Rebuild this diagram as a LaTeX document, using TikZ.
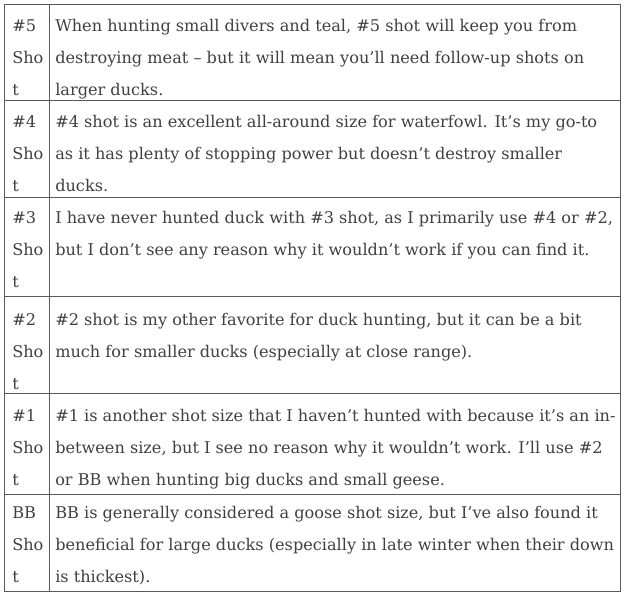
\documentclass[tikz,border=0pt]{standalone}
\usepackage{fontspec}
\setmainfont{DejaVu Serif}
\begin{document}
\begin{tikzpicture}[x=0.75pt,y=-0.75pt,
  txt/.style={anchor=base west,inner sep=0pt,text=black!75,font=\fontsize{12.1}{14}\selectfont},
  rule/.style={draw=black!65,line width=0.6pt}]
\useasboundingbox (0,0) rectangle (625,594);
\draw[rule] (4,4) rectangle (620,591);
\draw[rule] (49,4) -- (49,591);
\foreach \y in {100,197,296,393,494} \draw[rule] (4,\y) -- (620,\y);
\newcommand\row[5]{%
  \node[txt] at (12,#1+7) {#2};
  \node[txt] at (12,#1+39) {Sho};
  \node[txt] at (12,#1+71) {t};
  \node[txt] at (55,#1+7) {#3};
  \node[txt] at (55,#1+39) {#4};
  \node[txt] at (55,#1+71) {#5};}
\row{24}{\#5}{When hunting small divers and teal, \#5 shot will keep you from}{destroying meat – but it will mean you’ll need follow-up shots on}{larger ducks.}
\row{120}{\#4}{\#4 shot is an excellent all-around size for waterfowl. It’s my go-to}{as it has plenty of stopping power but doesn’t destroy smaller}{ducks.}
\row{216}{\#3}{I have never hunted duck with \#3 shot, as I primarily use \#4 or \#2,}{but I don’t see any reason why it wouldn’t work if you can find it.}{}
\row{318}{\#2}{\#2 shot is my other favorite for duck hunting, but it can be a bit}{much for smaller ducks (especially at close range).}{}
\row{414}{\#1}{\#1 is another shot size that I haven’t hunted with because it’s an in-}{between size, but I see no reason why it wouldn’t work. I’ll use \#2}{or BB when hunting big ducks and small geese.}
\row{511}{BB}{BB is generally considered a goose shot size, but I’ve also found it}{beneficial for large ducks (especially in late winter when their down}{is thickest).}
\end{tikzpicture}
\end{document}
